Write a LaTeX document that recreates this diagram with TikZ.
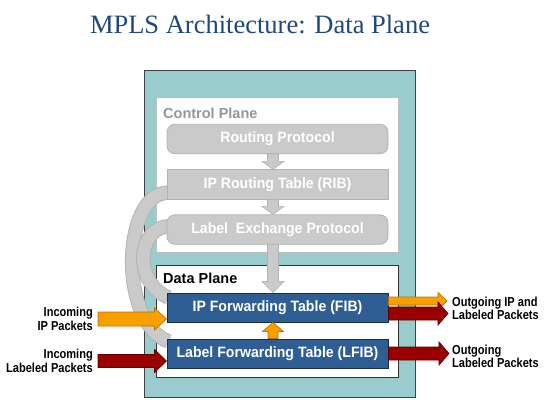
\documentclass[tikz,border=0pt]{standalone}
\usepackage{fontspec}
\setmainfont{Liberation Sans}
\newfontfamily\titlefont{Liberation Serif}
\newfontfamily\narrowfont[FakeStretch=0.85]{Liberation Sans}
\newfontfamily\boxfont[FakeStretch=0.94]{Liberation Sans}
\usetikzlibrary{calc}
\definecolor{titleblue}{RGB}{31,73,125}
\definecolor{tealA}{RGB}{153,204,204}
\definecolor{cpgray}{RGB}{202,202,202}
\definecolor{cpborder}{RGB}{178,178,178}
\definecolor{cptext}{RGB}{150,150,150}
\definecolor{fibblue}{RGB}{46,94,148}
\definecolor{fibborder}{RGB}{25,45,75}
\definecolor{orangeA}{RGB}{247,160,0}
\definecolor{orangeB}{RGB}{190,115,0}
\definecolor{redA}{RGB}{153,0,0}
\definecolor{redB}{RGB}{95,0,0}
\pgfdeclarelayer{back}
\pgfdeclarelayer{mid}
\pgfsetlayers{back,mid,main}
\newcommand\fatarrow[6]{%
  \draw[#1] let \p1=(#2), \p2=(#3), \n1={veclen(\x2-\x1,\y2-\y1)}, \n2={atan2(\y2-\y1,\x2-\x1)} in
  {[shift={(\x1,\y1)}, rotate=\n2, x=1pt, y=1pt]
   (0,-#4) -- (\n1-#6,-#4) -- (\n1-#6,-#5) -- (\n1,0) -- (\n1-#6,#5) -- (\n1-#6,#4) -- (0,#4) -- cycle};
}
\tikzset{
  container/.style={anchor=north west, inner sep=0pt},
  cpbox/.style={draw=cpborder, fill=cpgray, text=white, line width=0.8pt,
    font=\boxfont\bfseries\fontsize{15}{18}\selectfont, minimum width=221pt, minimum height=29.5pt, inner sep=0pt},
  dpbox/.style={draw=fibborder, fill=fibblue, text=white, line width=1pt,
    font=\boxfont\bfseries\fontsize{15}{18}\selectfont, minimum width=221pt, minimum height=29pt, inner sep=0pt},
  garrow/.style={fill=cpgray, draw=cpborder, line width=0.6pt},
  oarrow/.style={fill=orangeA, draw=orangeB, line width=0.7pt},
  rarrow/.style={fill=redA, draw=redB, line width=0.7pt},
  band/.style={draw=cpborder, double=cpgray, double distance=12.5pt, line width=0.9pt},
  sidelabel/.style={font=\narrowfont\bfseries\fontsize{13}{13.5}\selectfont, inner sep=0pt},
  planelabel/.style={font=\bfseries\fontsize{14.5}{17}\selectfont, anchor=base west, inner sep=0pt}
}
\begin{document}
\begin{tikzpicture}[x=1pt, y=-1pt]
\begin{pgfonlayer}{back}
\fill[white] (0,0) rectangle (553,408);
\end{pgfonlayer}
\useasboundingbox (0,0) rectangle (553,408);
\node[anchor=base, inner sep=0pt, text=titleblue, font=\titlefont\fontsize{26.5}{30}\selectfont] (title) at (260,33) {MPLS Architecture: Data Plane};

\begin{pgfonlayer}{back}
\node[container, draw=black!75, fill=tealA, line width=1.2pt, minimum width=271pt, minimum height=327pt] (router) at (144,70) {};
\node[container, draw=black!25, fill=white, line width=1pt, minimum width=242pt, minimum height=155pt] (cplane) at (156,97) {};
\node[container, draw=black!80, fill=white, line width=1.2pt, minimum width=242pt, minimum height=112pt] (dplane) at (156,265) {};
\end{pgfonlayer}

\node[planelabel, text=cptext] (cplabel) at (163,118) {Control Plane};
\node[planelabel, text=black] (dplabel) at (163,283) {Data Plane};

\node[cpbox, rounded corners=8pt] (rp) at (277.5,139) {Routing Protocol};
\node[cpbox] (rib) at (277.5,184.5) {IP Routing Table (RIB)};
\node[cpbox, rounded corners=8pt] (lep) at (277.5,229.5) {Label\ \ Exchange Protocol};
\node[dpbox] (fib) at (277.5,307.5) {IP Forwarding Table (FIB)};
\node[dpbox] (lfib) at (277.5,353.5) {Label Forwarding Table (LFIB)};

\begin{pgfonlayer}{mid}
\draw[band] ($(rib.south west)+(2,-7)$) .. controls (122,192) and (118,322) .. ($(lfib.north west)+(2,3)$);
\draw[band] ($(lep.north west)+(2,12)$) .. controls (138,227) and (132,282) .. ($(fib.north west)+(2,5)$);
\end{pgfonlayer}

\coordinate (ax) at (273,0);
\fatarrow{garrow}{ax |- rp.south}{ax |- rib.north}{5.5}{11}{8}
\fatarrow{garrow}{ax |- rib.south}{ax |- lep.north}{5.5}{11}{8}
\fatarrow{garrow}{ax |- lep.south}{ax |- fib.north}{5.5}{11}{11}
\fatarrow{oarrow}{ax |- lfib.north}{ax |- fib.south}{5}{10.5}{9}

\coordinate (inA) at (98,319);
\coordinate (inB) at (98,361);
\fatarrow{oarrow}{inA}{inA -| fib.west}{7}{11}{12}
\fatarrow{rarrow}{inB}{inB -| lfib.west}{6.5}{11.5}{12}

\coordinate (outA) at (447,301);
\coordinate (outB) at (448,313.5);
\coordinate (outC) at (449,353.5);
\fatarrow{oarrow}{outA -| fib.east}{outA}{4}{8.5}{9}
\fatarrow{rarrow}{outB -| fib.east}{outB}{6.5}{11.5}{10}
\fatarrow{rarrow}{outC -| lfib.east}{outC}{6.5}{11.5}{10}

\node[sidelabel, anchor=east, align=right] (inIP) at (93,319) {Incoming\\IP Packets};
\node[sidelabel, anchor=east, align=right] (inLab) at (93,361) {Incoming\\Labeled Packets};
\node[sidelabel, anchor=west, align=left] (outIP) at (452,308.5) {Outgoing IP and\\Labeled Packets};
\node[sidelabel, anchor=west, align=left] (outLab) at (452,356.5) {Outgoing\\Labeled Packets};
\end{tikzpicture}
\end{document}
